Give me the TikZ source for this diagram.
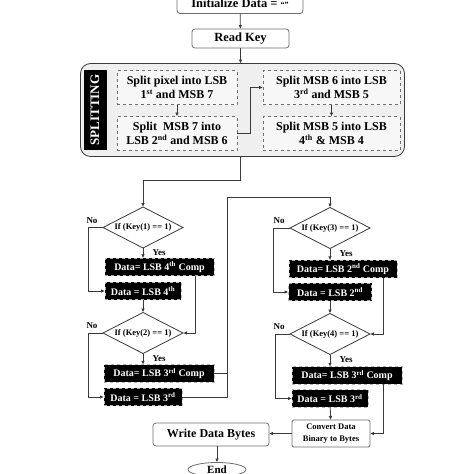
\documentclass[tikz,border=0pt]{standalone}
\usepackage{fontspec}
\setmainfont{Liberation Serif}
\usetikzlibrary{arrows.meta, shapes.geometric}

\begin{document}
\begin{tikzpicture}[x=1pt, y=-1pt, line width=0.8pt,
    every node/.style={font=\bfseries, inner sep=1pt, outer sep=0pt},
    rbox/.style={draw=g, fill=white, rounded corners=3pt, font=\bfseries\fontsize{12.5}{15}\selectfont},
    sbox/.style={draw=g, dashed, fill=w, minimum height=34pt, align=center, font=\bfseries\fontsize{12}{14.5}\selectfont},
    blk/.style={fill=black, draw=gray!60, dashed, text=white, minimum height=17.5pt, font=\bfseries\fontsize{10}{12}\selectfont},
    test/.style={draw=k, diamond, shape aspect=2, minimum width=80pt, minimum height=41pt, fill=white, font=\bfseries\fontsize{8.5}{10}\selectfont},
    lbl/.style={font=\bfseries\fontsize{9}{10}\selectfont},
    flow/.style={draw=k, -{Latex[length=4pt, width=3.5pt]}},
    link/.style={draw=k}]
  \definecolor{k}{HTML}{3A3A3A}
  \definecolor{g}{HTML}{6E6E6E}
  \definecolor{s}{HTML}{EFEFEF}
  \definecolor{w}{HTML}{F7F7F7}
  \clip (0, 0) rectangle (474, 474);

  \node (init) at (240, 3) [rbox, minimum width=126pt, minimum height=21pt] {Initialize Data = {\fontsize{8}{8}\selectfont “”}};
  \node (read) at (240.5, 38.5) [rbox, minimum width=97pt, minimum height=19pt] {Read Key};

  % splitting block
  \node (split) at (242.5, 110) [draw=k, fill=s, rounded corners=10pt, minimum width=324pt, minimum height=93pt] {};
  \node (tag) at (95, 110) [fill=black, text=white, rotate=90, minimum width=80pt, minimum height=23pt, font=\bfseries\fontsize{13}{15}\selectfont] {SPLITTING};
  \node (s1) at (177, 87.5) [sbox, minimum width=120pt] {Split pixel into LSB\\1\textsuperscript{st} and MSB 7};
  \node (s2) at (177, 133.5) [sbox, minimum width=120pt] {Split~ MSB 7 into\\LSB 2\textsuperscript{nd} and MSB 6};
  \node (s3) at (331.5, 87.5) [sbox, minimum width=137pt] {Split MSB 6 into LSB\\3\textsuperscript{rd} and MSB 5};
  \node (s4) at (331.5, 133.5) [sbox, minimum width=137pt] {Split MSB 5 into LSB\\4\textsuperscript{th} \& MSB 4};

  \foreach \n/\x/\y/\i in {d1/143/227.5/1, d2/143/333/2, d3/330/228/3, d4/330/334/4} {
      \node (\n) at (\x, \y) [test] {If (Key(\i) == 1)};
      \node (no-\n) at ([xshift=-11pt, yshift=7pt]\n.west) [lbl] {No};
      \node (yes-\n) at ([xshift=16pt, yshift=-5pt]\n.south) [lbl] {Yes};
  }

  \def\cases{
      c1/159.5/267/109/Data= LSB 4\textsuperscript{th} Comp,
      n1/143/291/76/Data = LSB 4\textsuperscript{th},
      c2/159/373.5/110/Data= LSB 3\textsuperscript{rd} Comp,
      n2/143/397/78/Data = LSB 3\textsuperscript{rd},
      c3/343/269/108/Data= LSB 2\textsuperscript{nd} Comp,
      n3/330/292/83/Data = LSB 2\textsuperscript{nd},
      c4/347/375.5/110/Data= LSB 3\textsuperscript{rd} Comp,
      n4/330/398.5/76/Data = LSB 3\textsuperscript{rd}
  }
  \foreach \n/\x/\y/\w/\t in \cases {
      \node (\n) at (\x, \y) [blk, minimum width=\w pt] {\t};
  }

  \node (conv) at (331, 433.5) [draw=g, fill=white, rounded corners=1.5pt, minimum width=78pt, minimum height=27pt, align=center, font=\bfseries\fontsize{8.5}{12}\selectfont] {Convert Data\\Binary to Bytes};
  \node (write) at (211, 434.5) [rbox, minimum width=116pt, minimum height=23pt, font=\bfseries\fontsize{12}{14}\selectfont] {Write Data Bytes};
  \node (end) at (217, 469.5) [draw=g, fill=white, ellipse, minimum width=58pt, minimum height=14pt, font=\bfseries\fontsize{11}{12}\selectfont] {End};

  \draw [flow] (init) -- (read);
  \draw [flow] (read) -- (read |- split.north);
  \draw [flow] (s1) -- (s2);
  \draw [flow] (s2.east) -- ++(13, 0) |- (s3.west);
  \draw [flow] (s3) -- (s4);
  \draw [flow] (split.south -| read) -- ++(0, 24) -| (d1.north);

  % left column
  \draw [flow] (d1.south) -- (d1.south |- c1.north);
  \draw [flow] (d1.west) -- ++(-15, 0) |- (n1.west);
  \draw [flow] (n1) -- (d2);
  \draw [flow] ([xshift=35.5pt]c1.south) |- (d2.east);
  \draw [flow] (d2.south) -- (d2.south |- c2.north);
  \draw [flow] (d2.west) -- ++(-15, 0) |- (n2.west);
  \coordinate (up) at (227, 197);
  \draw [link] (c2.east) -- (c2.east -| up);
  \draw [flow] (n2.east) -| (up) -| (d3.north);

  % right column
  \draw [flow] (d3.south) -- (d3.south |- c3.north);
  \draw [flow] (d3.west) -- ++(-17, 0) |- (n3.west);
  \draw [flow] (n3) -- (d4);
  \draw [flow] ([xshift=40pt]c3.south) |- (d4.east);
  \draw [flow] (d4.south) -- (d4.south |- c4.north);
  \draw [flow] (d4.west) -- ++(-15, 0) |- (n4.west);
  \draw [flow] (n4) -- (conv);
  \draw [flow] ([xshift=36pt]c4.south) |- (conv.east);
  \draw [flow] (conv.west) -- (conv.west -| write.east);
  \draw [flow] ([xshift=6pt]write.south) -- (end);
\end{tikzpicture}
\end{document}
